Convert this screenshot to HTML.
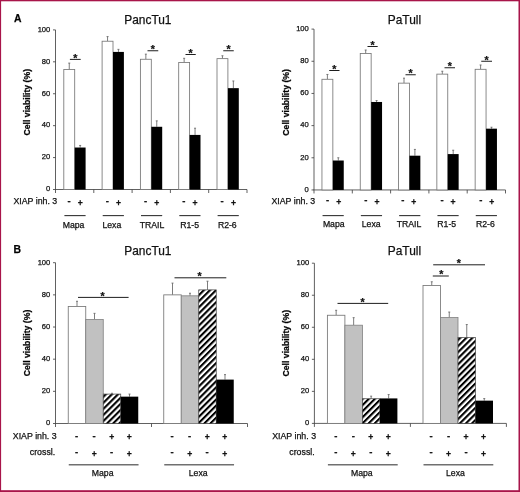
<!DOCTYPE html>
<html><head><meta charset="utf-8"><title>Figure</title>
<style>html,body{margin:0;padding:0;background:#fff}svg{display:block}text{font-family:'Liberation Sans', sans-serif;stroke:#111;stroke-width:0.25px}</style>
</head><body>
<svg width="520" height="492" viewBox="0 0 520 492">
<defs><pattern id="hatch" width="4.3" height="4.3" patternUnits="userSpaceOnUse" patternTransform="rotate(-45)"><rect width="4.3" height="4.3" fill="#fff"/><rect y="0" width="4.3" height="2.1" fill="#000"/></pattern></defs>
<rect width="520" height="492" fill="#fff"/>
<rect x="0" y="0" width="520" height="1.3" fill="#a8154a"/>
<rect x="0" y="490.2" width="520" height="1.8" fill="#a8154a"/>
<rect x="0" y="0" width="1.1" height="492" fill="#a8154a"/>
<rect x="518.5" y="0" width="1.5" height="492" fill="#a8154a"/>
<text x="14" y="22.2" font-size="10.4" font-weight="bold" fill="#000">A</text>
<text x="13.6" y="253" font-size="10.4" font-weight="bold" fill="#000">B</text>
<line x1="55.5" y1="29.9" x2="55.5" y2="189.5" stroke="#444" stroke-width="0.85"/>
<line x1="53.0" y1="189.50" x2="55.5" y2="189.50" stroke="#444" stroke-width="0.85"/>
<text x="50.30" y="191.30" font-size="7.6" text-anchor="end" fill="#111">0</text>
<line x1="53.0" y1="157.58" x2="55.5" y2="157.58" stroke="#444" stroke-width="0.85"/>
<text x="50.30" y="159.38" font-size="7.6" text-anchor="end" fill="#111">20</text>
<line x1="53.0" y1="125.66" x2="55.5" y2="125.66" stroke="#444" stroke-width="0.85"/>
<text x="50.30" y="127.46" font-size="7.6" text-anchor="end" fill="#111">40</text>
<line x1="53.0" y1="93.74" x2="55.5" y2="93.74" stroke="#444" stroke-width="0.85"/>
<text x="50.30" y="95.54" font-size="7.6" text-anchor="end" fill="#111">60</text>
<line x1="53.0" y1="61.82" x2="55.5" y2="61.82" stroke="#444" stroke-width="0.85"/>
<text x="50.30" y="63.62" font-size="7.6" text-anchor="end" fill="#111">80</text>
<line x1="53.0" y1="29.90" x2="55.5" y2="29.90" stroke="#444" stroke-width="0.85"/>
<text x="50.30" y="31.70" font-size="7.6" text-anchor="end" fill="#111">100</text>
<text transform="translate(30.30,102.20) rotate(-90)" font-size="8.7" font-weight="bold" text-anchor="middle" fill="#000">Cell viability (%)</text>
<text x="124.3" y="24" font-size="11.9" fill="#111">PancTu1</text>
<line x1="55.0" y1="189.5" x2="247.00" y2="189.5" stroke="#444" stroke-width="0.85"/>
<line x1="55.50" y1="189.5" x2="55.50" y2="193.0" stroke="#444" stroke-width="0.85"/>
<line x1="93.80" y1="189.5" x2="93.80" y2="193.0" stroke="#444" stroke-width="0.85"/>
<line x1="132.10" y1="189.5" x2="132.10" y2="193.0" stroke="#444" stroke-width="0.85"/>
<line x1="170.40" y1="189.5" x2="170.40" y2="193.0" stroke="#444" stroke-width="0.85"/>
<line x1="208.70" y1="189.5" x2="208.70" y2="193.0" stroke="#444" stroke-width="0.85"/>
<line x1="247.00" y1="189.5" x2="247.00" y2="193.0" stroke="#444" stroke-width="0.85"/>
<path d="M69.25 69.48V63.10M68.25 63.10H70.25" stroke="#666" stroke-width="0.85" fill="none"/>
<rect x="63.80" y="69.48" width="10.90" height="120.02" fill="#fff" stroke="#777" stroke-width="0.85"/>
<path d="M80.15 147.53V145.45M79.15 145.45H81.15" stroke="#666" stroke-width="0.85" fill="none"/>
<rect x="74.70" y="147.53" width="10.90" height="41.97" fill="#000"/>
<text x="69.00" y="203.70" font-size="9.5" font-weight="bold" text-anchor="middle" fill="#111">-</text>
<text x="80.20" y="206.10" font-size="8.6" font-weight="bold" text-anchor="middle" fill="#111">+</text>
<line x1="64.40" y1="215.6" x2="85.60" y2="215.6" stroke="#333" stroke-width="1.1"/>
<text x="73.60" y="227.5" font-size="8.7" text-anchor="middle" fill="#111">Mapa</text>
<line x1="69.90" y1="59.40" x2="80.70" y2="59.40" stroke="#111" stroke-width="0.95"/>
<text x="75.30" y="61.72" font-size="10.6" font-weight="bold" text-anchor="middle" fill="#111">*</text>
<path d="M107.55 41.23V36.60M106.55 36.60H108.55" stroke="#666" stroke-width="0.85" fill="none"/>
<rect x="102.10" y="41.23" width="10.90" height="148.27" fill="#fff" stroke="#777" stroke-width="0.85"/>
<path d="M118.45 51.92V49.37M117.45 49.37H119.45" stroke="#666" stroke-width="0.85" fill="none"/>
<rect x="113.00" y="51.92" width="10.90" height="137.58" fill="#000"/>
<text x="107.30" y="203.70" font-size="9.5" font-weight="bold" text-anchor="middle" fill="#111">-</text>
<text x="118.50" y="206.10" font-size="8.6" font-weight="bold" text-anchor="middle" fill="#111">+</text>
<line x1="102.70" y1="215.6" x2="123.90" y2="215.6" stroke="#333" stroke-width="1.1"/>
<text x="111.80" y="227.5" font-size="8.7" text-anchor="middle" fill="#111">Lexa</text>
<path d="M145.85 59.27V54.16M144.85 54.16H146.85" stroke="#666" stroke-width="0.85" fill="none"/>
<rect x="140.40" y="59.27" width="10.90" height="130.23" fill="#fff" stroke="#777" stroke-width="0.85"/>
<path d="M156.75 126.78V120.87M155.75 120.87H157.75" stroke="#666" stroke-width="0.85" fill="none"/>
<rect x="151.30" y="126.78" width="10.90" height="62.72" fill="#000"/>
<text x="145.60" y="203.70" font-size="9.5" font-weight="bold" text-anchor="middle" fill="#111">-</text>
<text x="156.80" y="206.10" font-size="8.6" font-weight="bold" text-anchor="middle" fill="#111">+</text>
<line x1="141.00" y1="215.6" x2="162.20" y2="215.6" stroke="#333" stroke-width="1.1"/>
<text x="152.00" y="227.5" font-size="8.7" text-anchor="middle" fill="#111">TRAIL</text>
<line x1="147.50" y1="50.75" x2="158.25" y2="50.75" stroke="#111" stroke-width="0.95"/>
<text x="152.88" y="53.07" font-size="10.6" font-weight="bold" text-anchor="middle" fill="#111">*</text>
<path d="M184.15 62.46V58.31M183.15 58.31H185.15" stroke="#666" stroke-width="0.85" fill="none"/>
<rect x="178.70" y="62.46" width="10.90" height="127.04" fill="#fff" stroke="#777" stroke-width="0.85"/>
<path d="M195.05 134.92V128.21M194.05 128.21H196.05" stroke="#666" stroke-width="0.85" fill="none"/>
<rect x="189.60" y="134.92" width="10.90" height="54.58" fill="#000"/>
<text x="183.90" y="203.70" font-size="9.5" font-weight="bold" text-anchor="middle" fill="#111">-</text>
<text x="195.10" y="206.10" font-size="8.6" font-weight="bold" text-anchor="middle" fill="#111">+</text>
<line x1="179.30" y1="215.6" x2="200.50" y2="215.6" stroke="#333" stroke-width="1.1"/>
<text x="189.70" y="227.5" font-size="8.7" text-anchor="middle" fill="#111">R1-5</text>
<line x1="185.50" y1="54.50" x2="195.75" y2="54.50" stroke="#111" stroke-width="0.95"/>
<text x="190.62" y="56.82" font-size="10.6" font-weight="bold" text-anchor="middle" fill="#111">*</text>
<path d="M222.45 58.63V55.76M221.45 55.76H223.45" stroke="#666" stroke-width="0.85" fill="none"/>
<rect x="217.00" y="58.63" width="10.90" height="130.87" fill="#fff" stroke="#777" stroke-width="0.85"/>
<path d="M233.35 88.15V80.97M232.35 80.97H234.35" stroke="#666" stroke-width="0.85" fill="none"/>
<rect x="227.90" y="88.15" width="10.90" height="101.35" fill="#000"/>
<text x="222.20" y="203.70" font-size="9.5" font-weight="bold" text-anchor="middle" fill="#111">-</text>
<text x="233.40" y="206.10" font-size="8.6" font-weight="bold" text-anchor="middle" fill="#111">+</text>
<line x1="217.60" y1="215.6" x2="238.80" y2="215.6" stroke="#333" stroke-width="1.1"/>
<text x="227.30" y="227.5" font-size="8.7" text-anchor="middle" fill="#111">R2-6</text>
<line x1="223.25" y1="50.75" x2="233.75" y2="50.75" stroke="#111" stroke-width="0.95"/>
<text x="228.50" y="53.07" font-size="10.6" font-weight="bold" text-anchor="middle" fill="#111">*</text>
<text x="13.40" y="204.3" font-size="8.8" fill="#111">XIAP inh. 3</text>
<line x1="314.0" y1="29.1" x2="314.0" y2="189.95" stroke="#444" stroke-width="0.85"/>
<line x1="311.5" y1="189.95" x2="314.0" y2="189.95" stroke="#444" stroke-width="0.85"/>
<text x="308.80" y="191.75" font-size="7.6" text-anchor="end" fill="#111">0</text>
<line x1="311.5" y1="157.78" x2="314.0" y2="157.78" stroke="#444" stroke-width="0.85"/>
<text x="308.80" y="159.58" font-size="7.6" text-anchor="end" fill="#111">20</text>
<line x1="311.5" y1="125.61" x2="314.0" y2="125.61" stroke="#444" stroke-width="0.85"/>
<text x="308.80" y="127.41" font-size="7.6" text-anchor="end" fill="#111">40</text>
<line x1="311.5" y1="93.44" x2="314.0" y2="93.44" stroke="#444" stroke-width="0.85"/>
<text x="308.80" y="95.24" font-size="7.6" text-anchor="end" fill="#111">60</text>
<line x1="311.5" y1="61.27" x2="314.0" y2="61.27" stroke="#444" stroke-width="0.85"/>
<text x="308.80" y="63.07" font-size="7.6" text-anchor="end" fill="#111">80</text>
<line x1="311.5" y1="29.10" x2="314.0" y2="29.10" stroke="#444" stroke-width="0.85"/>
<text x="308.80" y="30.90" font-size="7.6" text-anchor="end" fill="#111">100</text>
<text transform="translate(289.20,102.40) rotate(-90)" font-size="8.7" font-weight="bold" text-anchor="middle" fill="#000">Cell viability (%)</text>
<text x="387.8" y="24" font-size="11.9" fill="#111">PaTull</text>
<line x1="313.5" y1="189.95" x2="505.50" y2="189.95" stroke="#444" stroke-width="0.85"/>
<line x1="314.00" y1="189.95" x2="314.00" y2="193.45" stroke="#444" stroke-width="0.85"/>
<line x1="352.30" y1="189.95" x2="352.30" y2="193.45" stroke="#444" stroke-width="0.85"/>
<line x1="390.60" y1="189.95" x2="390.60" y2="193.45" stroke="#444" stroke-width="0.85"/>
<line x1="428.90" y1="189.95" x2="428.90" y2="193.45" stroke="#444" stroke-width="0.85"/>
<line x1="467.20" y1="189.95" x2="467.20" y2="193.45" stroke="#444" stroke-width="0.85"/>
<line x1="505.50" y1="189.95" x2="505.50" y2="193.45" stroke="#444" stroke-width="0.85"/>
<path d="M327.40 79.29V74.46M326.40 74.46H328.40" stroke="#666" stroke-width="0.85" fill="none"/>
<rect x="321.95" y="79.29" width="10.90" height="110.66" fill="#fff" stroke="#777" stroke-width="0.85"/>
<path d="M338.30 160.51V157.78M337.30 157.78H339.30" stroke="#666" stroke-width="0.85" fill="none"/>
<rect x="332.85" y="160.51" width="10.90" height="29.44" fill="#000"/>
<text x="327.65" y="202.80" font-size="9.5" font-weight="bold" text-anchor="middle" fill="#111">-</text>
<text x="338.65" y="205.20" font-size="8.6" font-weight="bold" text-anchor="middle" fill="#111">+</text>
<line x1="322.55" y1="215.6" x2="343.75" y2="215.6" stroke="#333" stroke-width="1.1"/>
<text x="333.75" y="226.9" font-size="8.7" text-anchor="middle" fill="#111">Mapa</text>
<line x1="329.25" y1="70.50" x2="339.50" y2="70.50" stroke="#111" stroke-width="0.95"/>
<text x="334.38" y="72.82" font-size="10.6" font-weight="bold" text-anchor="middle" fill="#111">*</text>
<path d="M365.70 53.55V50.01M364.70 50.01H366.70" stroke="#666" stroke-width="0.85" fill="none"/>
<rect x="360.25" y="53.55" width="10.90" height="136.40" fill="#fff" stroke="#777" stroke-width="0.85"/>
<path d="M376.60 101.97V100.52M375.60 100.52H377.60" stroke="#666" stroke-width="0.85" fill="none"/>
<rect x="371.15" y="101.97" width="10.90" height="87.98" fill="#000"/>
<text x="365.95" y="202.80" font-size="9.5" font-weight="bold" text-anchor="middle" fill="#111">-</text>
<text x="376.95" y="205.20" font-size="8.6" font-weight="bold" text-anchor="middle" fill="#111">+</text>
<line x1="360.85" y1="215.6" x2="382.05" y2="215.6" stroke="#333" stroke-width="1.1"/>
<text x="371.15" y="226.9" font-size="8.7" text-anchor="middle" fill="#111">Lexa</text>
<line x1="367.50" y1="46.50" x2="377.70" y2="46.50" stroke="#111" stroke-width="0.95"/>
<text x="372.60" y="48.82" font-size="10.6" font-weight="bold" text-anchor="middle" fill="#111">*</text>
<path d="M404.00 83.15V78.16M403.00 78.16H405.00" stroke="#666" stroke-width="0.85" fill="none"/>
<rect x="398.55" y="83.15" width="10.90" height="106.80" fill="#fff" stroke="#777" stroke-width="0.85"/>
<path d="M414.90 155.69V149.42M413.90 149.42H415.90" stroke="#666" stroke-width="0.85" fill="none"/>
<rect x="409.45" y="155.69" width="10.90" height="34.26" fill="#000"/>
<text x="402.85" y="202.80" font-size="9.5" font-weight="bold" text-anchor="middle" fill="#111">-</text>
<text x="413.85" y="205.20" font-size="8.6" font-weight="bold" text-anchor="middle" fill="#111">+</text>
<line x1="399.15" y1="215.6" x2="420.35" y2="215.6" stroke="#333" stroke-width="1.1"/>
<text x="409.05" y="226.9" font-size="8.7" text-anchor="middle" fill="#111">TRAIL</text>
<line x1="405.50" y1="74.75" x2="415.75" y2="74.75" stroke="#111" stroke-width="0.95"/>
<text x="410.62" y="77.07" font-size="10.6" font-weight="bold" text-anchor="middle" fill="#111">*</text>
<path d="M442.30 74.14V71.24M441.30 71.24H443.30" stroke="#666" stroke-width="0.85" fill="none"/>
<rect x="436.85" y="74.14" width="10.90" height="115.81" fill="#fff" stroke="#777" stroke-width="0.85"/>
<path d="M453.20 154.08V150.22M452.20 150.22H454.20" stroke="#666" stroke-width="0.85" fill="none"/>
<rect x="447.75" y="154.08" width="10.90" height="35.87" fill="#000"/>
<text x="442.05" y="202.80" font-size="9.5" font-weight="bold" text-anchor="middle" fill="#111">-</text>
<text x="453.05" y="205.20" font-size="8.6" font-weight="bold" text-anchor="middle" fill="#111">+</text>
<line x1="437.45" y1="215.6" x2="458.65" y2="215.6" stroke="#333" stroke-width="1.1"/>
<text x="446.75" y="226.9" font-size="8.7" text-anchor="middle" fill="#111">R1-5</text>
<line x1="444.50" y1="67.75" x2="455.00" y2="67.75" stroke="#111" stroke-width="0.95"/>
<text x="449.75" y="70.07" font-size="10.6" font-weight="bold" text-anchor="middle" fill="#111">*</text>
<path d="M480.60 69.31V64.97M479.60 64.97H481.60" stroke="#666" stroke-width="0.85" fill="none"/>
<rect x="475.15" y="69.31" width="10.90" height="120.64" fill="#fff" stroke="#777" stroke-width="0.85"/>
<path d="M491.50 128.67V127.22M490.50 127.22H492.50" stroke="#666" stroke-width="0.85" fill="none"/>
<rect x="486.05" y="128.67" width="10.90" height="61.28" fill="#000"/>
<text x="480.85" y="202.80" font-size="9.5" font-weight="bold" text-anchor="middle" fill="#111">-</text>
<text x="491.85" y="205.20" font-size="8.6" font-weight="bold" text-anchor="middle" fill="#111">+</text>
<line x1="475.75" y1="215.6" x2="496.95" y2="215.6" stroke="#333" stroke-width="1.1"/>
<text x="485.45" y="226.9" font-size="8.7" text-anchor="middle" fill="#111">R2-6</text>
<line x1="481.25" y1="61.25" x2="492.00" y2="61.25" stroke="#111" stroke-width="0.95"/>
<text x="486.62" y="63.57" font-size="10.6" font-weight="bold" text-anchor="middle" fill="#111">*</text>
<text x="271.40" y="204.3" font-size="8.8" fill="#111">XIAP inh. 3</text>
<line x1="55.5" y1="262.7" x2="55.5" y2="423.5" stroke="#444" stroke-width="0.85"/>
<line x1="53.0" y1="423.50" x2="55.5" y2="423.50" stroke="#444" stroke-width="0.85"/>
<text x="50.30" y="425.30" font-size="7.6" text-anchor="end" fill="#111">0</text>
<line x1="53.0" y1="391.34" x2="55.5" y2="391.34" stroke="#444" stroke-width="0.85"/>
<text x="50.30" y="393.14" font-size="7.6" text-anchor="end" fill="#111">20</text>
<line x1="53.0" y1="359.18" x2="55.5" y2="359.18" stroke="#444" stroke-width="0.85"/>
<text x="50.30" y="360.98" font-size="7.6" text-anchor="end" fill="#111">40</text>
<line x1="53.0" y1="327.02" x2="55.5" y2="327.02" stroke="#444" stroke-width="0.85"/>
<text x="50.30" y="328.82" font-size="7.6" text-anchor="end" fill="#111">60</text>
<line x1="53.0" y1="294.86" x2="55.5" y2="294.86" stroke="#444" stroke-width="0.85"/>
<text x="50.30" y="296.66" font-size="7.6" text-anchor="end" fill="#111">80</text>
<line x1="53.0" y1="262.70" x2="55.5" y2="262.70" stroke="#444" stroke-width="0.85"/>
<text x="50.30" y="264.50" font-size="7.6" text-anchor="end" fill="#111">100</text>
<text transform="translate(30.30,343.00) rotate(-90)" font-size="8.7" font-weight="bold" text-anchor="middle" fill="#000">Cell viability (%)</text>
<text x="124.3" y="254.5" font-size="11.9" fill="#111">PancTu1</text>
<line x1="55.0" y1="423.5" x2="247.50" y2="423.5" stroke="#444" stroke-width="0.85"/>
<line x1="55.50" y1="423.5" x2="55.50" y2="427.0" stroke="#444" stroke-width="0.85"/>
<line x1="151.50" y1="423.5" x2="151.50" y2="427.0" stroke="#444" stroke-width="0.85"/>
<line x1="247.50" y1="423.5" x2="247.50" y2="427.0" stroke="#444" stroke-width="0.85"/>
<path d="M77.00 306.44V301.29M76.00 301.29H78.00" stroke="#666" stroke-width="0.85" fill="none"/>
<rect x="68.25" y="306.44" width="17.50" height="117.06" fill="#fff" stroke="#777" stroke-width="0.85"/>
<text x="76.70" y="438.60" font-size="9.5" font-weight="bold" text-anchor="middle" fill="#111">-</text>
<text x="76.70" y="455.30" font-size="9.5" font-weight="bold" text-anchor="middle" fill="#111">-</text>
<path d="M94.50 319.46V313.35M93.50 313.35H95.50" stroke="#666" stroke-width="0.85" fill="none"/>
<rect x="85.75" y="319.46" width="17.50" height="104.04" fill="#c1c1c1" stroke="#808080" stroke-width="0.8"/>
<text x="94.20" y="438.60" font-size="9.5" font-weight="bold" text-anchor="middle" fill="#111">-</text>
<text x="94.20" y="457.00" font-size="8.6" font-weight="bold" text-anchor="middle" fill="#111">+</text>
<path d="M112.00 394.07V393.27M111.00 393.27H113.00" stroke="#666" stroke-width="0.85" fill="none"/>
<rect x="103.25" y="394.07" width="17.50" height="29.43" fill="url(#hatch)" stroke="#444" stroke-width="0.7"/>
<text x="111.70" y="439.50" font-size="8.6" font-weight="bold" text-anchor="middle" fill="#111">+</text>
<text x="111.70" y="455.30" font-size="9.5" font-weight="bold" text-anchor="middle" fill="#111">-</text>
<path d="M129.50 396.65V394.07M128.50 394.07H130.50" stroke="#666" stroke-width="0.85" fill="none"/>
<rect x="120.75" y="396.65" width="17.50" height="26.85" fill="#000"/>
<text x="129.20" y="439.50" font-size="8.6" font-weight="bold" text-anchor="middle" fill="#111">+</text>
<text x="129.20" y="457.00" font-size="8.6" font-weight="bold" text-anchor="middle" fill="#111">+</text>
<line x1="68.75" y1="464.8" x2="138.55" y2="464.8" stroke="#707070" stroke-width="1.4"/>
<text x="102.65" y="476" font-size="8.7" text-anchor="middle" fill="#111">Mapa</text>
<line x1="78.00" y1="297.40" x2="128.60" y2="297.40" stroke="#111" stroke-width="0.95"/>
<text x="102.50" y="299.72" font-size="10.6" font-weight="bold" text-anchor="middle" fill="#111">*</text>
<path d="M172.50 294.86V283.12M171.50 283.12H173.50" stroke="#666" stroke-width="0.85" fill="none"/>
<rect x="163.75" y="294.86" width="17.50" height="128.64" fill="#fff" stroke="#777" stroke-width="0.85"/>
<text x="172.20" y="438.60" font-size="9.5" font-weight="bold" text-anchor="middle" fill="#111">-</text>
<text x="172.20" y="455.30" font-size="9.5" font-weight="bold" text-anchor="middle" fill="#111">-</text>
<path d="M190.00 295.82V293.25M189.00 293.25H191.00" stroke="#666" stroke-width="0.85" fill="none"/>
<rect x="181.25" y="295.82" width="17.50" height="127.68" fill="#c1c1c1" stroke="#808080" stroke-width="0.8"/>
<text x="189.70" y="438.60" font-size="9.5" font-weight="bold" text-anchor="middle" fill="#111">-</text>
<text x="189.70" y="457.00" font-size="8.6" font-weight="bold" text-anchor="middle" fill="#111">+</text>
<path d="M207.50 289.88V281.19M206.50 281.19H208.50" stroke="#666" stroke-width="0.85" fill="none"/>
<rect x="198.75" y="289.88" width="17.50" height="133.62" fill="url(#hatch)" stroke="#444" stroke-width="0.7"/>
<text x="207.20" y="439.50" font-size="8.6" font-weight="bold" text-anchor="middle" fill="#111">+</text>
<text x="207.20" y="455.30" font-size="9.5" font-weight="bold" text-anchor="middle" fill="#111">-</text>
<path d="M225.00 379.60V374.62M224.00 374.62H226.00" stroke="#666" stroke-width="0.85" fill="none"/>
<rect x="216.25" y="379.60" width="17.50" height="43.90" fill="#000"/>
<text x="224.70" y="439.50" font-size="8.6" font-weight="bold" text-anchor="middle" fill="#111">+</text>
<text x="224.70" y="457.00" font-size="8.6" font-weight="bold" text-anchor="middle" fill="#111">+</text>
<line x1="164.25" y1="464.8" x2="234.05" y2="464.8" stroke="#707070" stroke-width="1.4"/>
<text x="198.15" y="476" font-size="8.7" text-anchor="middle" fill="#111">Lexa</text>
<line x1="174.50" y1="277.80" x2="226.30" y2="277.80" stroke="#111" stroke-width="0.95"/>
<text x="199.50" y="280.12" font-size="10.6" font-weight="bold" text-anchor="middle" fill="#111">*</text>
<text x="12.8" y="439.1" font-size="8.8" fill="#111">XIAP inh. 3</text>
<text x="29.8" y="455.3" font-size="8.8" fill="#111">crossl.</text>
<line x1="314.4" y1="263.2" x2="314.4" y2="423.4" stroke="#444" stroke-width="0.85"/>
<line x1="311.9" y1="423.40" x2="314.4" y2="423.40" stroke="#444" stroke-width="0.85"/>
<text x="309.20" y="425.20" font-size="7.6" text-anchor="end" fill="#111">0</text>
<line x1="311.9" y1="391.36" x2="314.4" y2="391.36" stroke="#444" stroke-width="0.85"/>
<text x="309.20" y="393.16" font-size="7.6" text-anchor="end" fill="#111">20</text>
<line x1="311.9" y1="359.32" x2="314.4" y2="359.32" stroke="#444" stroke-width="0.85"/>
<text x="309.20" y="361.12" font-size="7.6" text-anchor="end" fill="#111">40</text>
<line x1="311.9" y1="327.28" x2="314.4" y2="327.28" stroke="#444" stroke-width="0.85"/>
<text x="309.20" y="329.08" font-size="7.6" text-anchor="end" fill="#111">60</text>
<line x1="311.9" y1="295.24" x2="314.4" y2="295.24" stroke="#444" stroke-width="0.85"/>
<text x="309.20" y="297.04" font-size="7.6" text-anchor="end" fill="#111">80</text>
<line x1="311.9" y1="263.20" x2="314.4" y2="263.20" stroke="#444" stroke-width="0.85"/>
<text x="309.20" y="265.00" font-size="7.6" text-anchor="end" fill="#111">100</text>
<text transform="translate(289.30,343.20) rotate(-90)" font-size="8.7" font-weight="bold" text-anchor="middle" fill="#000">Cell viability (%)</text>
<text x="387.8" y="254.5" font-size="11.9" fill="#111">PaTull</text>
<line x1="313.9" y1="423.4" x2="506.40" y2="423.4" stroke="#444" stroke-width="0.85"/>
<line x1="314.40" y1="423.4" x2="314.40" y2="426.9" stroke="#444" stroke-width="0.85"/>
<line x1="410.40" y1="423.4" x2="410.40" y2="426.9" stroke="#444" stroke-width="0.85"/>
<line x1="506.40" y1="423.4" x2="506.40" y2="426.9" stroke="#444" stroke-width="0.85"/>
<path d="M336.15 315.26V310.30M335.15 310.30H337.15" stroke="#666" stroke-width="0.85" fill="none"/>
<rect x="327.40" y="315.26" width="17.50" height="108.13" fill="#fff" stroke="#777" stroke-width="0.85"/>
<text x="335.85" y="438.60" font-size="9.5" font-weight="bold" text-anchor="middle" fill="#111">-</text>
<text x="335.85" y="455.30" font-size="9.5" font-weight="bold" text-anchor="middle" fill="#111">-</text>
<path d="M353.65 325.20V317.67M352.65 317.67H354.65" stroke="#666" stroke-width="0.85" fill="none"/>
<rect x="344.90" y="325.20" width="17.50" height="98.20" fill="#c1c1c1" stroke="#808080" stroke-width="0.8"/>
<text x="353.35" y="438.60" font-size="9.5" font-weight="bold" text-anchor="middle" fill="#111">-</text>
<text x="353.35" y="457.00" font-size="8.6" font-weight="bold" text-anchor="middle" fill="#111">+</text>
<path d="M371.15 398.73V396.17M370.15 396.17H372.15" stroke="#666" stroke-width="0.85" fill="none"/>
<rect x="362.40" y="398.73" width="17.50" height="24.67" fill="url(#hatch)" stroke="#444" stroke-width="0.7"/>
<text x="370.85" y="439.50" font-size="8.6" font-weight="bold" text-anchor="middle" fill="#111">+</text>
<text x="370.85" y="455.30" font-size="9.5" font-weight="bold" text-anchor="middle" fill="#111">-</text>
<path d="M388.65 398.41V394.56M387.65 394.56H389.65" stroke="#666" stroke-width="0.85" fill="none"/>
<rect x="379.90" y="398.41" width="17.50" height="24.99" fill="#000"/>
<text x="388.35" y="439.50" font-size="8.6" font-weight="bold" text-anchor="middle" fill="#111">+</text>
<text x="388.35" y="457.00" font-size="8.6" font-weight="bold" text-anchor="middle" fill="#111">+</text>
<line x1="327.90" y1="464.8" x2="397.70" y2="464.8" stroke="#707070" stroke-width="1.4"/>
<text x="361.80" y="476" font-size="8.7" text-anchor="middle" fill="#111">Mapa</text>
<line x1="337.50" y1="303.40" x2="388.20" y2="303.40" stroke="#111" stroke-width="0.95"/>
<text x="362.50" y="305.72" font-size="10.6" font-weight="bold" text-anchor="middle" fill="#111">*</text>
<path d="M431.75 285.47V281.78M430.75 281.78H432.75" stroke="#666" stroke-width="0.85" fill="none"/>
<rect x="423.00" y="285.47" width="17.50" height="137.93" fill="#fff" stroke="#777" stroke-width="0.85"/>
<text x="431.05" y="438.60" font-size="9.5" font-weight="bold" text-anchor="middle" fill="#111">-</text>
<text x="431.05" y="455.30" font-size="9.5" font-weight="bold" text-anchor="middle" fill="#111">-</text>
<path d="M449.25 317.51V312.06M448.25 312.06H450.25" stroke="#666" stroke-width="0.85" fill="none"/>
<rect x="440.50" y="317.51" width="17.50" height="105.89" fill="#c1c1c1" stroke="#808080" stroke-width="0.8"/>
<text x="448.55" y="438.60" font-size="9.5" font-weight="bold" text-anchor="middle" fill="#111">-</text>
<text x="448.55" y="457.00" font-size="8.6" font-weight="bold" text-anchor="middle" fill="#111">+</text>
<path d="M466.75 337.53V324.56M465.75 324.56H467.75" stroke="#666" stroke-width="0.85" fill="none"/>
<rect x="458.00" y="337.53" width="17.50" height="85.87" fill="url(#hatch)" stroke="#444" stroke-width="0.7"/>
<text x="466.05" y="439.50" font-size="8.6" font-weight="bold" text-anchor="middle" fill="#111">+</text>
<text x="466.05" y="455.30" font-size="9.5" font-weight="bold" text-anchor="middle" fill="#111">-</text>
<path d="M484.25 400.65V398.57M483.25 398.57H485.25" stroke="#666" stroke-width="0.85" fill="none"/>
<rect x="475.50" y="400.65" width="17.50" height="22.75" fill="#000"/>
<text x="483.55" y="439.50" font-size="8.6" font-weight="bold" text-anchor="middle" fill="#111">+</text>
<text x="483.55" y="457.00" font-size="8.6" font-weight="bold" text-anchor="middle" fill="#111">+</text>
<line x1="423.50" y1="464.8" x2="493.30" y2="464.8" stroke="#707070" stroke-width="1.4"/>
<text x="455.40" y="476" font-size="8.7" text-anchor="middle" fill="#111">Lexa</text>
<line x1="433.20" y1="264.80" x2="485.00" y2="264.80" stroke="#111" stroke-width="0.95"/>
<text x="458.70" y="267.12" font-size="10.6" font-weight="bold" text-anchor="middle" fill="#111">*</text>
<line x1="432.80" y1="276.00" x2="448.80" y2="276.00" stroke="#111" stroke-width="0.95"/>
<text x="441.20" y="278.32" font-size="10.6" font-weight="bold" text-anchor="middle" fill="#111">*</text>
<text x="272.2" y="439.1" font-size="8.8" fill="#111">XIAP inh. 3</text>
<text x="289.3" y="455.3" font-size="8.8" fill="#111">crossl.</text>
</svg></body></html>
